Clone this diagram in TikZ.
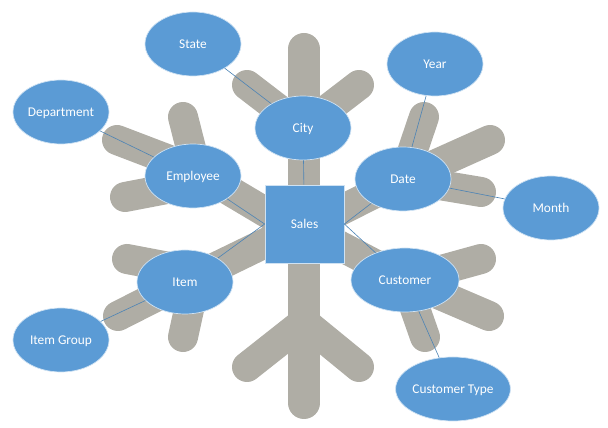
\documentclass[tikz,border=0pt]{standalone}
\usepackage{fontspec}
\setmainfont{Carlito}
\usetikzlibrary{backgrounds,shapes.geometric}

\definecolor{dimblue}{HTML}{5B9BD5}
\definecolor{dimedge}{HTML}{CFE2F3}
\definecolor{bonegray}{HTML}{AFADA5}

\begin{document}
\begin{tikzpicture}[x=0.2mm,y=-0.2mm]
    \tikzstyle{dim}=[ellipse, draw=dimedge, fill=dimblue, text=white,
    line width=0.4pt, inner sep=0pt, minimum width=1.92cm,
    minimum height=1.28cm, text height=6pt, text depth=1pt,
    font=\fontsize{7.6}{9}\selectfont]
    \tikzstyle{widedim}=[dim, minimum width=2.16cm]
    \tikzstyle{fact}=[rectangle, draw=dimedge, fill=dimblue, text=white,
    line width=0.4pt, inner sep=0pt, minimum width=1.58cm,
    minimum height=1.56cm, font=\fontsize{7.6}{9}\selectfont]
    \tikzstyle{bone}=[draw=bonegray, line width=0.6cm, line cap=round]
    \tikzstyle{spine}=[bone, line width=0.64cm]
    \tikzstyle{link}=[draw=dimblue!85!black, line width=0.35pt]
    \useasboundingbox (0,0) rectangle (608,428);

    \node[fact] (sales) at (304.5,224) {Sales};
    \node[dim] (city) at (303,128) {City};
    \node[dim] (state) at (193,44) {State};
    \node[dim] (employee) at (193,176) {Employee};
    \node[dim] (department) at (61,112) {Department};
    \node[dim] (date) at (403,179) {Date};
    \node[dim] (year) at (435,64) {Year};
    \node[dim] (month) at (551,208) {Month};
    \node[dim] (item) at (185,282) {Item};
    \node[dim] (itemgroup) at (61,340) {Item Group};
    \node[widedim] (customer) at (405,280) {Customer};
    \node[widedim] (customertype) at (453,389) {Customer Type};

    \coordinate (spinetop) at (304,49);
    \coordinate (spinebot) at (304,403);
    \coordinate (forkjoin) at (304,322);
    \coordinate (forkleft) at (247,367);
    \coordinate (forkright) at (359,367);
    \coordinate (cityleft) at (247,85);
    \coordinate (cityright) at (359,85);
    \coordinate (empup) at (183,117);
    \coordinate (empupin) at (198,176);
    \coordinate (empdept) at (117,140);
    \coordinate (empdeptin) at (193,169);
    \coordinate (empleft) at (125,197);
    \coordinate (empleftin) at (193,184);
    \coordinate (empsales) at (304,235);
    \coordinate (dateup) at (424,117);
    \coordinate (dateright) at (490,140);
    \coordinate (datemonth) at (481,192);
    \coordinate (datesales) at (304,229);
    \coordinate (itemleft) at (127,259);
    \coordinate (itemleftin) at (185,270);
    \coordinate (itemgroupend) at (118,316);
    \coordinate (itemdown) at (183,337);
    \coordinate (itemdownin) at (195,282);
    \coordinate (custup) at (481,259);
    \coordinate (custright) at (489,316);
    \coordinate (custdown) at (425,337);
    \coordinate (custsales) at (304,227);

    \begin{scope}[on background layer]
        \path[spine] (spinetop) -- (spinebot);
        \path[bone]
        (forkjoin) edge (forkleft)
        (forkjoin) edge (forkright)
        (city.center) edge (cityleft)
        (city.center) edge (cityright)
        (empupin) edge (empup)
        (empdeptin) edge (empdept)
        (empleftin) edge (empleft)
        (empdeptin) edge (empsales)
        (date.center) edge (dateup)
        (date.center) edge (dateright)
        (date.center) edge (datemonth)
        (date.center) edge (datesales)
        (itemleftin) edge (itemleft)
        (item.center) edge (itemgroupend)
        (itemdownin) edge (itemdown)
        (item.center) edge (sales.center)
        (customer.center) edge (custup)
        (customer.center) edge (custright)
        (customer.center) edge (custdown)
        (customer.center) edge (custsales);
    \end{scope}

    \path[link]
    (state) edge (city)
    (department) edge (employee)
    (year) edge (date)
    (date) edge (month)
    (itemgroup) edge (item)
    (customer) edge (customertype)
    (city) edge (sales)
    (employee) edge (sales.west)
    (item) edge (sales.west)
    (date) edge (sales.east)
    (customer) edge (sales.east);
\end{tikzpicture}
\end{document}
